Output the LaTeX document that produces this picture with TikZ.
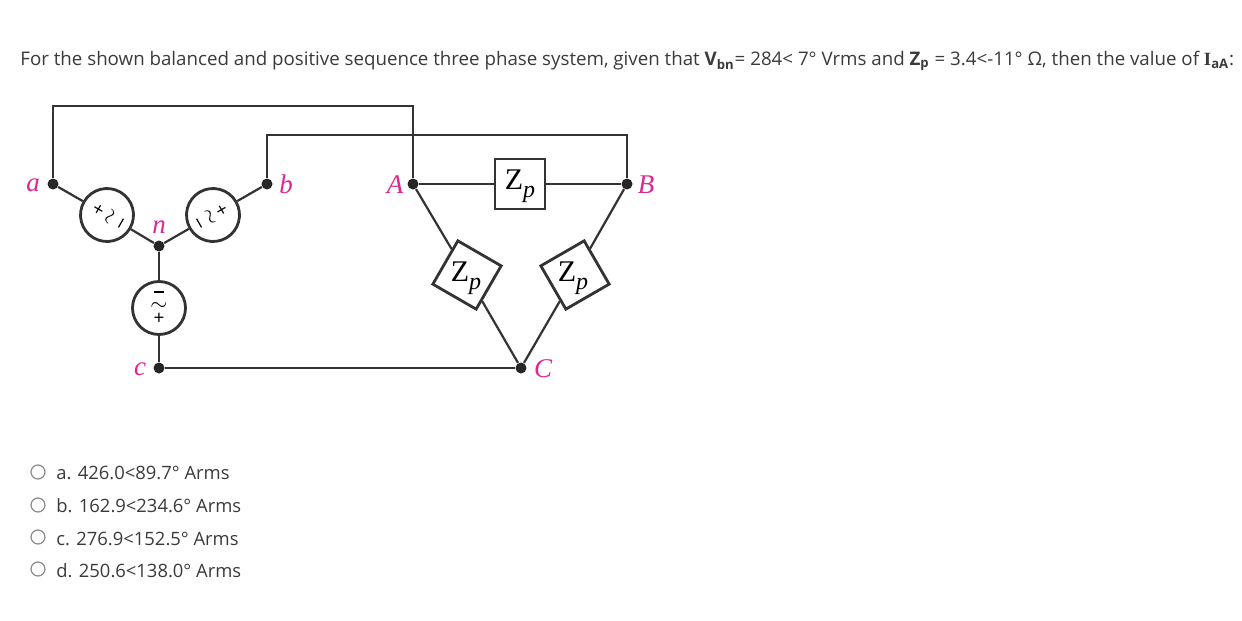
\documentclass[tikz,border=0pt]{standalone}
\usepackage{fontspec}
\setmainfont{Open Sans}
\newfontfamily\labelfont{Liberation Serif}
\usetikzlibrary{positioning}
\definecolor{wirecol}{HTML}{333333}
\definecolor{labelcol}{HTML}{E0268F}
\definecolor{textcol}{HTML}{3A3A3A}
\definecolor{radiocol}{HTML}{8A8A8A}
\newcommand{\srcsym}{\rule[1.5pt]{5pt}{0.6pt}\\{\fontsize{11}{7.3}\selectfont$\sim$}\\{\fontsize{9.5}{7.3}\selectfont+}}
\newcommand{\zp}{{\labelfont\fontsize{15}{15}\selectfont Z\raisebox{-4pt}{\fontsize{12}{12}\selectfont\itshape p}}}
\begin{document}
\begin{tikzpicture}[x=0.5pt,y=-0.5pt]
  \tikzset{
    wire/.style={draw=wirecol,line width=1.1pt},
    dot/.style={circle,fill=black!85,inner sep=0pt,minimum size=5.5pt},
    source/.style={circle,draw=wirecol,line width=1.4pt,fill=white,minimum size=26.5pt,inner sep=0pt,align=center,font=\fontsize{8}{7.3}\selectfont},
    zbox/.style={draw=wirecol,line width=1.4pt,fill=white,minimum size=25pt,inner sep=0pt},
    ztext/.style={inner sep=0pt},
    plabel/.style={text=labelcol,inner sep=0pt,font=\labelfont\itshape\fontsize{13.5}{13.5}\selectfont},
    txt/.style={anchor=west,inner sep=0pt,text=textcol,font=\fontsize{9.2}{11}\selectfont},
    radio/.style={circle,draw=radiocol,line width=0.6pt,fill=white,minimum size=7pt,inner sep=0pt}
  }
  \useasboundingbox (0,0) rectangle (1242,621);
  \node[txt,font=\fontsize{9.36}{11}\selectfont] (question) at (20,61) {For the shown balanced and positive sequence three phase system, given that \textbf{V\textsubscript{bn}}= 284< 7° Vrms and \textbf{Z\textsubscript{p}} = 3.4<-11° Ω, then the value of {\labelfont\bfseries I}\textbf{\textsubscript{aA}}:};
  % source side
  \node[dot] (a) at (53,184) {};
  \node[dot] (b) at (267,184) {};
  \node[dot] (n) at (159,246) {};
  \node[dot] (c) at (159,368) {};
  \node[source,rotate=240] (srca) at (107,215) {\srcsym};
  \node[source,rotate=120] (srcb) at (213,215) {\srcsym};
  \node[source] (srcc) at (159,308) {\srcsym};
  % load side
  \node[dot] (A) at (413,184) {};
  \node[dot] (B) at (627,184) {};
  \node[dot] (C) at (521,368) {};
  \node[zbox] (zab) at (520,184) {};
  \node[zbox,rotate=-30] (zac) at (467,275) {};
  \node[zbox,rotate=30] (zbc) at (575,275) {};
  \node[ztext] (tab) at (520,186) {\zp};
  \node[ztext] (tac) at (466,278) {\zp};
  \node[ztext] (tbc) at (573,278) {\zp};
  \coordinate (topa) at (53,106);
  \coordinate (topA) at (413,106);
  \coordinate (topb) at (267,135);
  \coordinate (topB) at (627,135);
  \draw[wire] (a) -- (topa) -- (topA) -- (A);
  \draw[wire] (b) -- (topb) -- (topB) -- (B);
  \draw[wire] (c) -- (C);
  \draw[wire] (a) -- (srca) -- (n) -- (srcb) -- (b);
  \draw[wire] (n) -- (srcc) -- (c);
  \draw[wire] (A) -- (zab) -- (B);
  \draw[wire] (A) -- (zac) -- (C);
  \draw[wire] (B) -- (zbc) -- (C);
  \node[plabel] (la) at (33,185) {a};
  \node[plabel] (lb) at (286,184) {b};
  \node[plabel] (ln) at (159,227) {n};
  \node[plabel] (lc) at (140,369) {c};
  \node[plabel] (lA) at (395,185) {A};
  \node[plabel] (lB) at (646,185) {B};
  \node[plabel] (lC) at (543,369) {C};
  % answers
  \node[radio] (ra) at (38,472) {};
  \node[radio] (rb) at (38,505) {};
  \node[radio] (rc) at (38,537) {};
  \node[radio] (rd) at (38,569) {};
  \node[txt] (oa) at (56,473) {a. 426.0<89.7° Arms};
  \node[txt] (ob) at (56,506) {b. 162.9<234.6° Arms};
  \node[txt] (oc) at (56,539) {c. 276.9<152.5° Arms};
  \node[txt] (od) at (56,571) {d. 250.6<138.0° Arms};
\end{tikzpicture}
\end{document}
